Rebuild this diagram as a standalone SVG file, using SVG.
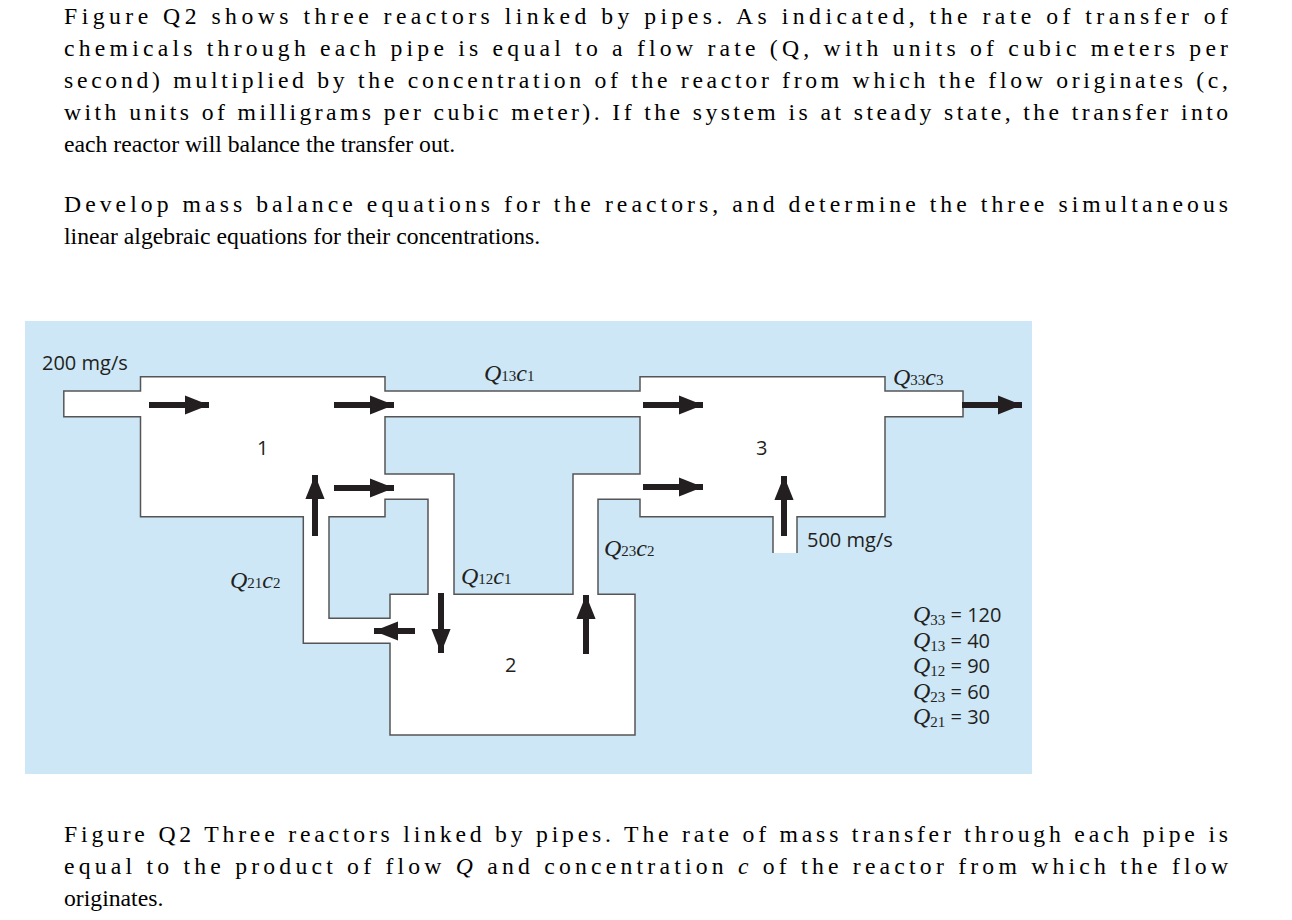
<svg xmlns="http://www.w3.org/2000/svg" width="1292" height="920" viewBox="0 0 1292 920">
<style>
.b{font-family:"Liberation Serif",serif;font-size:23.7px;fill:#000}
.s{font-family:"Open Sans","Liberation Sans",sans-serif;font-size:20px;font-style:normal;fill:#231f20}
.q{font-family:"Liberation Serif",serif;font-style:italic;font-size:24px;fill:#231f20}
.sub{font-style:normal;font-size:15px}
.w{fill:#fff;stroke:none}
.ln{fill:none;stroke:#555;stroke-width:1.5}
.isl{fill:#cde7f7;stroke:#555;stroke-width:1.5}
</style>
<defs>
<marker id="ah" viewBox="0 0 10 10" refX="10" refY="5" markerWidth="4" markerHeight="4" orient="auto" markerUnits="strokeWidth"><path d="M0,1 L10,5 L0,9 Z" fill="#231f20"/></marker>
</defs>
<rect width="1292" height="920" fill="#fff"/>
<text class="b" x="64" y="24" textLength="1164" lengthAdjust="spacing">Figure Q2 shows three reactors linked by pipes. As indicated, the rate of transfer of</text>
<text class="b" x="64" y="56" textLength="1164" lengthAdjust="spacing">chemicals  through each pipe is equal to a flow rate (Q, with units of cubic meters per</text>
<text class="b" x="64" y="88" textLength="1164" lengthAdjust="spacing">second) multiplied by the concentration of the reactor from which the flow originates (c,</text>
<text class="b" x="64" y="120" textLength="1164" lengthAdjust="spacing">with units of milligrams per cubic meter). If the system is at steady state, the transfer into</text>
<text class="b" x="64" y="152">each reactor will balance the transfer out.</text>
<text class="b" x="64" y="212" textLength="1164" lengthAdjust="spacing">Develop mass balance equations for the reactors, and determine the three simultaneous</text>
<text class="b" x="64" y="244">linear algebraic equations for their concentrations.</text>
<rect x="25" y="321" width="1007" height="453" fill="#cde7f7"/>
<g id="reactors">
<polygon class="w" points="63.8,391 140.5,391 140.5,376.7 385,376.7 385,391 640,391 640,376.7 885,376.7 885,391 963,391 963,416.7 885,416.7 885,516.7 797,516.7 797,553 773,553 773,516.7 640,516.7 640,499.3 598,499.3 598,594.3 635,594.3 635,735 390,735 390,643.3 303.3,643.3 303.3,516.7 140.5,516.7 140.5,416.7 63.8,416.7"/>
<path class="ln" d="M797,553 V516.7 H885 V416.7 H963 V391 H885 V376.7 H640 V391 H385 V376.7 H140.5 V391 H63.8 V416.7 H140.5 V516.7 H303.3 V643.3 H390 V735 H635 V594.3 H598 V499.3 H640 V516.7 H773 V553"/>
<path class="isl" d="M385,416.7 H640 V474 H573 V594.3 H454 V474 H385 Z"/>
<path class="isl" d="M385,516.7 V499.3 H428 V594.3 H390 V618.3 H329 V516.7 Z"/>
</g>
<g id="arrows" stroke="#231f20" stroke-width="6" marker-end="url(#ah)">
<line x1="149" y1="405" x2="209" y2="405"/>
<line x1="334" y1="405" x2="394" y2="405"/>
<line x1="334" y1="488" x2="394" y2="488"/>
<line x1="643" y1="405" x2="703" y2="405"/>
<line x1="643" y1="487" x2="703" y2="487"/>
<line x1="962" y1="405" x2="1022" y2="405"/>
<line x1="315" y1="536" x2="315" y2="475"/>
<line x1="441" y1="593" x2="441" y2="653"/>
<line x1="415" y1="631" x2="374" y2="631"/>
<line x1="586" y1="654" x2="586" y2="595"/>
<line x1="784" y1="536" x2="784" y2="476"/>
</g>
<g id="labels">
<text class="s" x="42" y="370">200 mg/s</text>
<text class="s" x="807" y="547">500 mg/s</text>
<text class="s" x="257" y="455">1</text>
<text class="s" x="756" y="455">3</text>
<text class="s" x="505" y="672">2</text>
<text class="q" x="484" y="381">Q<tspan class="sub">13</tspan>c<tspan class="sub">1</tspan></text>
<text class="q" x="893" y="385">Q<tspan class="sub">33</tspan>c<tspan class="sub">3</tspan></text>
<text class="q" x="230" y="588">Q<tspan class="sub">21</tspan>c<tspan class="sub">2</tspan></text>
<text class="q" x="461" y="584">Q<tspan class="sub">12</tspan>c<tspan class="sub">1</tspan></text>
<text class="q" x="604" y="556">Q<tspan class="sub">23</tspan>c<tspan class="sub">2</tspan></text>
<text class="q" x="913" y="622">Q<tspan class="sub" dy="3">33</tspan><tspan class="s" dy="-3"> = 120</tspan></text>
<text class="q" x="913" y="648">Q<tspan class="sub" dy="3">13</tspan><tspan class="s" dy="-3"> = 40</tspan></text>
<text class="q" x="913" y="673">Q<tspan class="sub" dy="3">12</tspan><tspan class="s" dy="-3"> = 90</tspan></text>
<text class="q" x="913" y="699">Q<tspan class="sub" dy="3">23</tspan><tspan class="s" dy="-3"> = 60</tspan></text>
<text class="q" x="913" y="724">Q<tspan class="sub" dy="3">21</tspan><tspan class="s" dy="-3"> = 30</tspan></text>
</g>
<text class="b" x="64" y="842" textLength="1164" lengthAdjust="spacing">Figure Q2 Three reactors linked by pipes. The rate of mass transfer through each pipe is</text>
<text class="b" x="64" y="874" textLength="1164" lengthAdjust="spacing">equal to the product of flow <tspan font-style="italic">Q</tspan> and concentration <tspan font-style="italic">c</tspan> of the reactor from which the flow</text>
<text class="b" x="64" y="906">originates.</text>
</svg>
